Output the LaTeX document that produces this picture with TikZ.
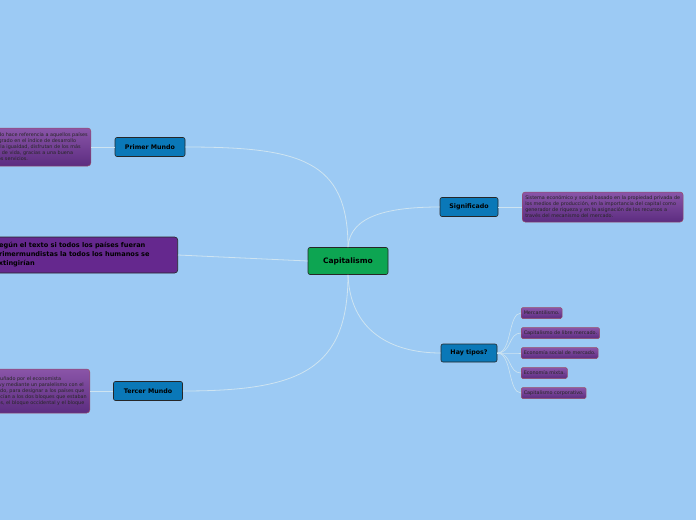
\documentclass[tikz,border=0pt]{standalone}
\usepackage{fontspec}
\setmainfont{DejaVu Sans}
\begin{document}
\begin{tikzpicture}[x=1pt,y=-1pt,
 blue/.style={draw=black!85,fill=nodeblue,rounded corners=2pt,line width=0.6pt,font=\bfseries\fontsize{6.3}{7}\selectfont,inner sep=0pt},
 desc/.style={draw=purple!40!gray,top color=descA,bottom color=descB,rounded corners=3pt,line width=0.5pt,font=\fontsize{4.9}{6}\selectfont,align=left,inner sep=3pt,text=black!85},
 typ/.style={draw=purple!40!gray,top color=descA,bottom color=descB,rounded corners=1.5pt,line width=0.5pt,font=\fontsize{4.9}{5.5}\selectfont,anchor=west,minimum height=11pt,inner sep=2.5pt,text=black!85},
 con/.style={draw=white!80!nodeblue,line width=0.8pt}]
\definecolor{bg}{HTML}{9CCAF4}
\definecolor{nodeblue}{HTML}{0A78B8}
\definecolor{descA}{HTML}{8A55A8}
\definecolor{descB}{HTML}{5C2C80}
\definecolor{green}{HTML}{0DA552}
\definecolor{big}{HTML}{65288E}
\fill[bg] (0,0) rectangle (696,520);
\useasboundingbox (0,0) rectangle (696,520);
\clip (0,0) rectangle (696,520);
\node[blue,fill=green,minimum width=80pt,minimum height=27pt,font=\bfseries\fontsize{7.5}{8}\selectfont] (cap) at (348,261) {Capitalismo};
\node[blue,minimum width=58pt,minimum height=19pt] (sig) at (469,207) {Significado};
\node[blue,minimum width=56pt,minimum height=18pt] (hay) at (469,353) {Hay tipos?};
\node[blue,minimum width=70pt,minimum height=19pt] (pm) at (150,147) {Primer Mundo};
\node[blue,minimum width=69pt,minimum height=19pt] (tm) at (148,391) {Tercer Mundo};
\node[draw=black!85,fill=big,rounded corners=3pt,line width=0.6pt,anchor=east,minimum height=36pt,text width=180pt,align=left,font=\bfseries\fontsize{6.6}{9}\selectfont] (big) at (178,255) {Según el texto si todos los países fueran\\ primermundistas la todos los humanos se\\ extingirían};
\node[desc,anchor=east,minimum height=38pt] (pmd) at (91,147) {Primer mundo hace referencia a aquellos países\\ con un alto grado en el índice de desarrollo\\ humano, en la igualdad, disfrutan de los más\\ altos niveles de vida, gracias a una buena\\ calidad de los servicios.};
\node[desc,anchor=east,minimum height=44pt] (tmd) at (90,391) {Término acuñado por el economista\\ Alfred Sauvy mediante un paralelismo con el\\ tercer estado, para designar a los países que\\ no pertenecían a los dos bloques que estaban\\ enfrentados, el bloque occidental y el bloque};
\node[desc,anchor=west,minimum height=30pt] (sigd) at (522,207) {Sistema económico y social basado en la propiedad privada de\\ los medios de producción, en la importancia del capital como\\ generador de riqueza y en la asignación de los recursos a\\ través del mecanismo del mercado.};
\node[typ] (t1) at (521,313) {Mercantilismo.};
\node[typ] (t2) at (521,333) {Capitalismo de libre mercado.};
\node[typ] (t3) at (521,353) {Economía social de mercado.};
\node[typ] (t4) at (521,373) {Economía mixta.};
\node[typ] (t5) at (521,393) {Capitalismo corporativo.};
\path[con] (cap.north) .. controls (348,160) and (300,147) .. (pm.east);
\path[con] (cap.south) .. controls (348,370) and (300,391) .. (tm.east);
\path[con] (cap.west) -- (big.east);
\path[con] (cap.north) .. controls (350,215) and (390,207) .. (sig.west);
\path[con] (cap.south) .. controls (350,330) and (390,353) .. (hay.west);
\path[con] (pm.west) -- (pmd.east);
\path[con] (tm.west) -- (tmd.east);
\path[con] (sig.east) -- (sigd.west);
\foreach \t in {t1,t2,t3,t4,t5} \path[con,line width=0.6pt] (hay.east) .. controls (512,353) and (508,0|-\t.west) .. (\t.west);
\end{tikzpicture}
\end{document}
